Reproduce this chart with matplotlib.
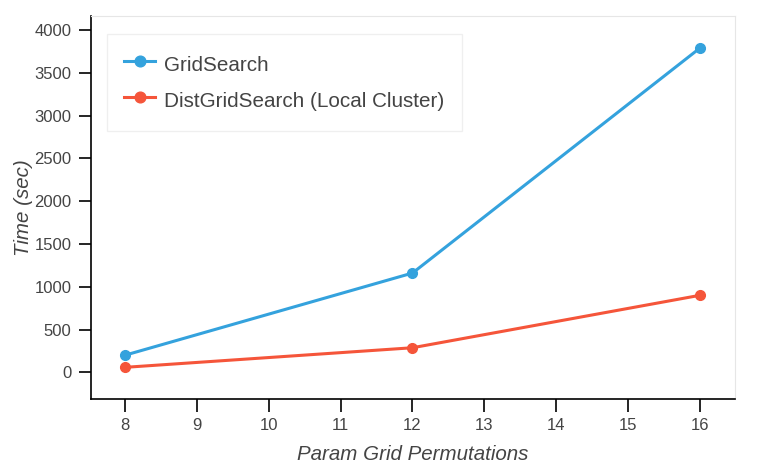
import matplotlib.pyplot as plt

plt.rcParams['font.family'] = ['Liberation Sans', 'DejaVu Sans']

permutations = [8, 12, 16]
grid_search = [200, 1160, 3790]
dist_grid_search = [58, 287, 900]

blue = '#34a2dd'
red = '#f5553a'
txt = '#444444'

fig = plt.figure(figsize=(7.79, 4.68), dpi=100)
ax = fig.add_axes([91 / 779, 1 - 399 / 468, 644 / 779, 383 / 468])

ax.plot(permutations, grid_search, color=blue, lw=2.2, marker='o', ms=7,
        label='GridSearch')
ax.plot(permutations, dist_grid_search, color=red, lw=2.2, marker='o', ms=7,
        label='DistGridSearch (Local Cluster)')

ax.set_xlim(7.527, 16.487)
ax.set_ylim(-312, 4164)
ax.set_xticks(range(8, 17))
ax.set_yticks(range(0, 4001, 500))

for s in ['top', 'right']:
    ax.spines[s].set_color('#e6e6e6')
for s in ['left', 'bottom']:
    ax.spines[s].set_color('black')
    ax.spines[s].set_linewidth(1.2)
ax.tick_params(direction='out', length=9, width=1.2, colors='black',
               labelcolor=txt, labelsize=12, pad=5)

ax.set_xlabel('Param Grid Permutations', style='italic', fontsize=14.8,
              color=txt, labelpad=8)
ax.set_ylabel('Time (sec)', style='italic', fontsize=14.8, color=txt,
              labelpad=1)

leg = ax.legend(loc='upper left', bbox_to_anchor=(0.0244, 0.9535),
                borderaxespad=0, fontsize=14.9, frameon=True, fancybox=False,
                handlelength=1.5, handleheight=1.55, handletextpad=0.45,
                labelspacing=0.5, borderpad=0.84, markerscale=1.1)
leg.get_frame().set_edgecolor('#ececec')
leg.get_frame().set_linewidth(1.0)
for t in leg.get_texts():
    t.set_color(txt)

fig.savefig('out.png', dpi=100)
